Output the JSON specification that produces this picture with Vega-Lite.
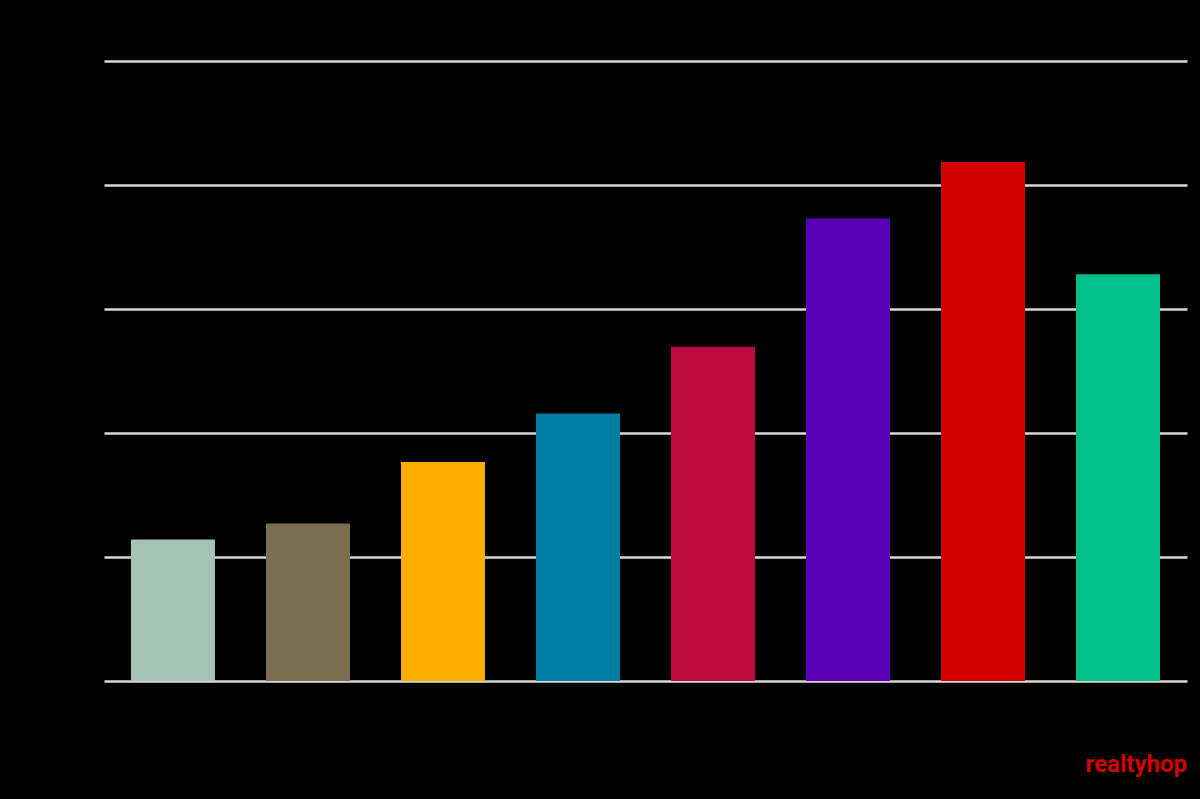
{
  "$schema": "https://vega.github.io/schema/vega-lite/v6.json",
  "width": 1083,
  "height": 620,
  "autosize": {"type": "none"},
  "padding": {"left": 104, "top": 61, "right": 13, "bottom": 118},
  "background": "#000000",
  "title": {
    "text": "realtyhop",
    "orient": "bottom",
    "anchor": "end",
    "color": "#d40000",
    "font": "Roboto",
    "fontSize": 24,
    "fontWeight": "bold",
    "offset": 72
  },
  "data": {
    "values": [
      {"category": "A", "value": 571, "color": "#a3c4b6"},
      {"category": "B", "value": 635, "color": "#7d6e51"},
      {"category": "C", "value": 883, "color": "#ffae00"},
      {"category": "D", "value": 1079, "color": "#007fa6"},
      {"category": "E", "value": 1348, "color": "#be0a40"},
      {"category": "F", "value": 1866, "color": "#5a00b4"},
      {"category": "G", "value": 2093, "color": "#d40000"},
      {"category": "H", "value": 1640, "color": "#00bf88"}
    ]
  },
  "mark": {"type": "bar"},
  "encoding": {
    "x": {
      "field": "category",
      "type": "nominal",
      "sort": null,
      "scale": {"paddingInner": 0.378, "paddingOuter": 0.2},
      "axis": {"labels": false, "ticks": false, "domain": false, "title": null}
    },
    "y": {
      "field": "value",
      "type": "quantitative",
      "scale": {"domain": [0, 2500], "nice": false},
      "axis": {
        "values": [0, 500, 1000, 1500, 2000, 2500],
        "labels": false,
        "ticks": false,
        "domain": false,
        "title": null,
        "grid": true,
        "gridColor": "#d9d9d9",
        "gridWidth": 2.5,
        "gridOpacity": 1
      }
    },
    "color": {"field": "color", "type": "nominal", "scale": null, "legend": null}
  },
  "config": {"view": {"stroke": null}}
}
